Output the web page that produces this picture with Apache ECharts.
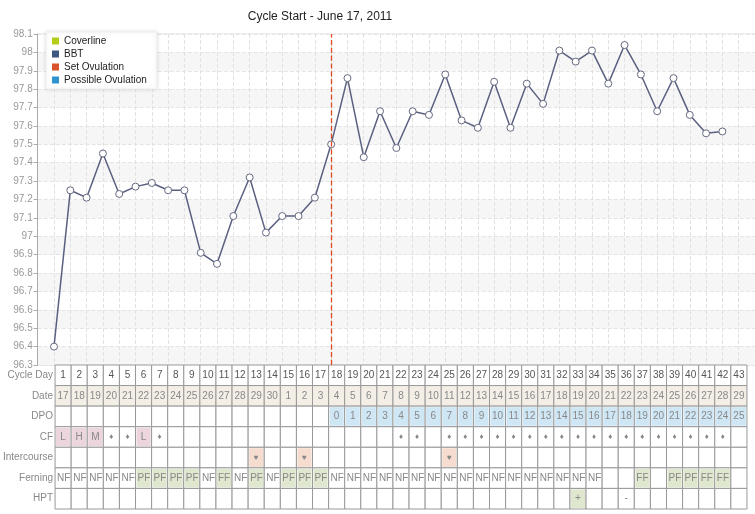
<!DOCTYPE html>
<html>
<head>
<meta charset="utf-8">
<script src="https://cdn.jsdelivr.net/npm/echarts@6/dist/echarts.min.js"></script>
<style>
  html, body { margin: 0; padding: 0; background: #fff; }
  #chart { width: 755px; height: 514px; }
</style>
</head>
<body>
<div id="chart"></div>
<script>
// Chart data
const cycleDays = [1,2,3,4,5,6,7,8,9,10,11,12,13,14,15,16,17,18,19,20,21,22,23,24,25,26,27,28,29,30,31,32,33,34,35,36,37,38,39,40,41,42,43];
const bbt = [96.4,97.25,97.21,97.45,97.23,97.27,97.29,97.25,97.25,96.91,96.85,97.11,97.32,97.02,97.11,97.11,97.21,97.5,97.86,97.43,97.68,97.48,97.68,97.66,97.88,97.63,97.59,97.84,97.59,97.83,97.72,98.01,97.95,98.01,97.83,98.04,97.88,97.68,97.86,97.66,97.56,97.57];
const dates = ['17','18','19','20','21','22','23','24','25','26','27','28','29','30','1','2','3','4','5','6','7','8','9','10','11','12','13','14','15','16','17','18','19','20','21','22','23','24','25','26','27','28','29'];
const dpo = ['','','','','','','','','','','','','','','','','','0','1','2','3','4','5','6','7','8','9','10','11','12','13','14','15','16','17','18','19','20','21','22','23','24','25'];
const cf = ['L','H','M','♦','♦','L','♦','','','','','','','','','','','','','','','♦','♦','','♦','♦','♦','♦','♦','♦','♦','♦','♦','♦','♦','♦','♦','♦','♦','♦','♦','♦',''];
const intercourse = ['','','','','','','','','','','','','♥','','','♥','','','','','','','','','♥','','','','','','','','','','','','','','','','','',''];
const ferning = ['NF','NF','NF','NF','NF','PF','PF','PF','PF','NF','FF','NF','PF','NF','PF','PF','PF','NF','NF','NF','NF','NF','NF','NF','NF','NF','NF','NF','NF','NF','NF','NF','NF','NF','','','FF','','PF','PF','FF','FF',''];
const hpt = ['','','','','','','','','','','','','','','','','','','','','','','','','','','','','','','','','+','','','-','','','','','','',''];
const rowLabels = ['Cycle Day','Date','DPO','CF','Intercourse','Ferning','HPT'];
const ovulationDay = 18;

// Cell background per row
function cellFill(row, text) {
    if (row === 1) return '#f3efe6';
    if (row === 2) return text !== '' ? '#cfe7f5' : null;
    if (row === 3) return ['L', 'H', 'M'].includes(text) ? '#ecd5dc' : null;
    if (row === 4) return text !== '' ? '#f6dccf' : null;
    if (row === 5) return (text === 'PF' || text === 'FF') ? '#dfe8cf' : null;
    if (row === 6) return text === '+' ? '#dfe8cf' : null;
    return null;
}

const rows = [cycleDays.map(String), dates, dpo, cf, intercourse, ferning, hpt];
const tableData = [];
rows.forEach((r, ri) => r.forEach((t, ci) => tableData.push([cycleDays[ci], ri, t])));

const chart = echarts.init(document.getElementById('chart'));
const gray = '#888';

chart.setOption({
    animation: false,
    title: {
        text: 'Cycle Start - June 17, 2011',
        left: 315, top: 6, textAlign: 'center',
        textStyle: { fontSize: 12, fontWeight: 'normal', color: '#222', fontFamily: 'Liberation Sans' }
    },
    legend: {
        orient: 'vertical', left: 46, top: 32,
        backgroundColor: '#fff', padding: [4, 10, 4, 6],
        borderColor: '#eee', borderWidth: 1,
        shadowColor: 'rgba(0,0,0,0.12)', shadowBlur: 4,
        itemWidth: 7, itemHeight: 7, itemGap: 3,
        icon: 'rect',
        textStyle: { fontSize: 10, color: '#222', fontFamily: 'Liberation Sans' },
        data: [
            { name: 'Coverline', itemStyle: { color: '#b5cc18', borderWidth: 0 } },
            { name: 'BBT', itemStyle: { color: '#3f5880', borderWidth: 0 } },
            { name: 'Set Ovulation', itemStyle: { color: '#d9532c', borderWidth: 0 } },
            { name: 'Possible Ovulation', itemStyle: { color: '#2e94d0', borderWidth: 0 } }
        ]
    },
    grid: [
        { left: 37.7, right: 0, top: 34, bottom: 149, show: true, borderColor: '#ddd' },
        { left: 37.7, right: 0, top: 365, bottom: 5 }
    ],
    xAxis: [
        {
            gridIndex: 0, type: 'value', min: 0, max: 44, interval: 1,
            axisLabel: { show: false }, axisTick: { show: false }, axisLine: { show: false },
            splitLine: { lineStyle: { color: '#e2e2e2', type: 'dashed' } }
        },
        {
            gridIndex: 1, type: 'value', min: 0, max: 44,
            axisLabel: { show: false }, axisTick: { show: false }, axisLine: { show: false },
            splitLine: { show: false }
        }
    ],
    yAxis: [
        {
            gridIndex: 0, type: 'value', min: 96.3, max: 98.1, interval: 0.1,
            axisLine: { show: true, lineStyle: { color: '#aaa' } },
            axisTick: { show: true, length: 4, lineStyle: { color: '#aaa' } },
            axisLabel: { fontSize: 10, color: '#999', margin: 5, fontFamily: 'Liberation Sans',
                formatter: v => String(parseFloat(v.toFixed(1))) },
            splitLine: { lineStyle: { color: '#e4e4e4', type: 'dashed' } },
            splitArea: { show: true, areaStyle: { color: ['#f6f6f6', '#fff'] } }
        },
        {
            gridIndex: 1, type: 'category', data: rowLabels, inverse: true,
            axisLine: { show: false }, axisTick: { show: false },
            axisLabel: { fontSize: 10, color: gray, margin: -6, fontFamily: 'Liberation Sans' }
        }
    ],
    series: [
        { name: 'Coverline', type: 'line', data: [], itemStyle: { color: '#b5cc18' } },
        {
            name: 'BBT', type: 'line', xAxisIndex: 0, yAxisIndex: 0,
            data: bbt.map((v, i) => [cycleDays[i], v]),
            symbol: 'circle', symbolSize: 7,
            lineStyle: { color: '#5a6080', width: 1.5 },
            itemStyle: { color: '#fff', borderColor: '#666a80', borderWidth: 1 },
            z: 3
        },
        {
            name: 'Set Ovulation', type: 'line', data: [], itemStyle: { color: '#d9532c' },
            markLine: {
                silent: true, symbol: 'none', label: { show: false },
                lineStyle: { color: '#e04a22', type: 'dashed', width: 1.3, opacity: 1 },
                emphasis: { disabled: true },
                data: [{ xAxis: ovulationDay }]
            },
            z: 2
        },
        { name: 'Possible Ovulation', type: 'line', data: [], itemStyle: { color: '#2e94d0' } },
        {
            type: 'custom', xAxisIndex: 1, yAxisIndex: 1, data: tableData,
            renderItem: (params, api) => {
                const c = api.coord([api.value(0), api.value(1)]);
                const s = api.size([1, 1]);
                const text = rows[api.value(1)][api.value(0) - 1];
                const fill = cellFill(api.value(1), text);
                const x = c[0] - s[0] / 2, y = c[1] - s[1] / 2;
                const children = [{
                    type: 'rect',
                    shape: { x: x, y: y, width: s[0], height: s[1] },
                    style: { fill: fill || '#fff', stroke: '#999', lineWidth: 1 }
                }];
                if (fill && api.value(1) > 1) {
                    children[0].style.fill = '#fff';
                    children.push({
                        type: 'rect',
                        shape: { x: x + 1, y: y + 1, width: s[0] - 2, height: s[1] - 2 },
                        style: { fill: fill }
                    });
                }
                if (text !== '') {
                    children.push({
                        type: 'text',
                        style: {
                            x: api.value(1) === 5 ? x + 2 : c[0], y: c[1], text: text,
                            fill: api.value(1) === 0 ? '#555' : gray,
                            fontSize: (text === '♦' || text === '♥') ? 8 : 10,
                            fontFamily: 'Liberation Sans',
                            align: api.value(1) === 5 ? 'left' : 'center', verticalAlign: 'middle'
                        }
                    });
                }
                return { type: 'group', children: children };
            }
        }
    ]
});
</script>
</body>
</html>
